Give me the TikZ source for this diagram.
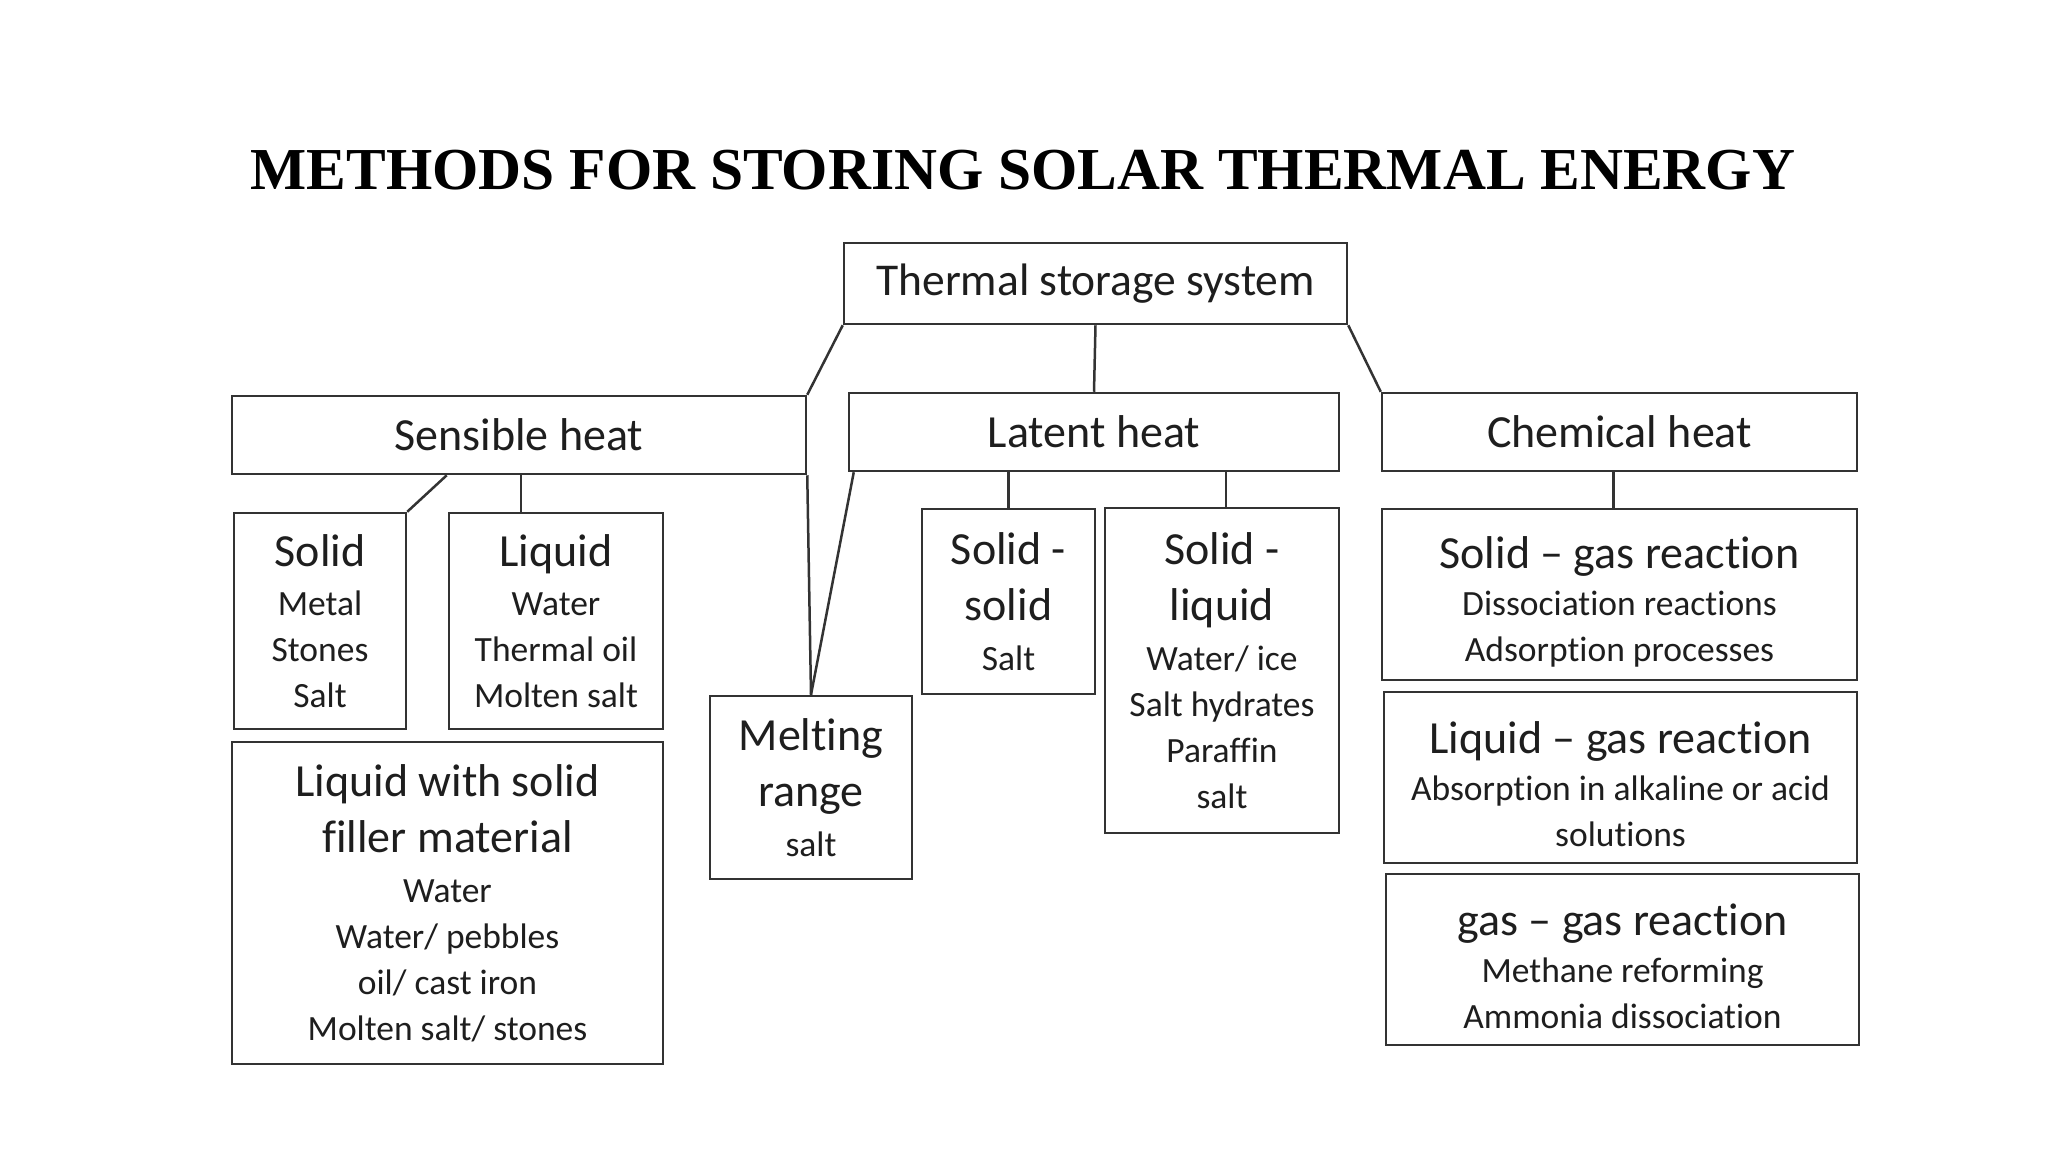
\documentclass[tikz,border=0pt]{standalone}
\usepackage{fontspec}
\setmainfont{Carlito}[Ligatures=NoCommon]
\newfontfamily\titlefont{Liberation Serif}
\definecolor{linecol}{HTML}{333333}
\definecolor{txtcol}{HTML}{1E1E1E}
\newcommand\hl[1]{{\fontsize{46}{57}\selectfont #1}}
\newcommand\tallstrut{\rule{0pt}{46pt}}
\begin{document}
\begin{tikzpicture}[x=1pt,y=-1pt,
  box/.style={draw=linecol, line width=2.5pt, inner sep=0pt, align=center, text=txtcol, font=\fontsize{35.5}{46}\selectfont},
  hdbox/.style={box, font=\fontsize{46}{55}\selectfont},
  conn/.style={draw=linecol, line width=2.5pt}]
\fill[white] (0,0) rectangle (2048,1152);
\useasboundingbox (0,0) rectangle (2048,1152);

\node[font=\titlefont\bfseries\fontsize{59.5}{70}\selectfont, text=black] (title) at (1023,170) {METHODS FOR STORING SOLAR THERMAL ENERGY};

\node[hdbox, font=\fontsize{45.5}{55}\selectfont, minimum width=503, minimum height=81] (tss) at (1095.5,283.5) {\raisebox{-4pt}{Thermal storage system}};
\node[hdbox, minimum width=574, minimum height=78] (sens) at (519,435) {Sensible heat};
\node[hdbox, minimum width=490, minimum height=78] (lat) at (1094,432) {Latent heat};
\node[hdbox, minimum width=475, minimum height=78] (chem) at (1619.5,432) {Chemical heat};

\node[box, minimum width=172, minimum height=216] (solid) at (320,621) {\hl{Solid}\\[3pt]Metal\\Stones\\Salt};
\node[box, minimum width=214, minimum height=216] (liquid) at (556,621) {\hl{Liquid}\\[3pt]Water\\Thermal oil\\Molten salt};
\node[box, minimum width=431, minimum height=322] (filler) at (447.5,903) {\hl{Liquid with solid}\\[10pt]\hl{filler material}\\[4pt]Water\\Water/ pebbles\\oil/ cast iron\\Molten salt/ stones};
\node[box, minimum width=202, minimum height=183] (melt) at (811,787.5) {\hl{Melting}\\[10pt]\hl{range}\\[4pt]salt};
\node[box, minimum width=173, minimum height=185] (ss) at (1008.5,601.5) {\hl{Solid -}\\[10pt]\hl{solid}\\[4pt]Salt};
\node[box, minimum width=234, minimum height=325] (sl) at (1222,670.5) {\hl{Solid -}\\[10pt]\hl{liquid}\\[4pt]Water/ ice\\Salt hydrates\\Paraffin\\salt};
\node[box, minimum width=475, minimum height=171] (sg) at (1619.5,594.5) {\tallstrut\hl{Solid -- gas reaction}\\[1pt]Dissociation reactions\\Adsorption processes};
\node[box, minimum width=473, minimum height=171] (lg) at (1620.5,777.5) {\tallstrut\hl{Liquid -- gas reaction}\\[1pt]Absorption in alkaline or acid\\solutions};
\node[box, minimum width=473, minimum height=171] (gg) at (1622.5,959.5) {\tallstrut\hl{gas -- gas reaction}\\[1pt]Methane reforming\\Ammonia dissociation};

\draw[conn] (tss.south west) -- (sens.north east);
\draw[conn] (tss.south) -- (lat.north);
\draw[conn] (tss.south east) -- (chem.north west);
\draw[conn] ([xshift=216]sens.south west) -- (solid.north east);
\draw[conn] ([xshift=-35]liquid.north) -- ([xshift=-35]liquid.north |- sens.south);
\draw[conn] (sens.south east) -- (melt.north);
\draw[conn] ([xshift=6]lat.south west) -- (melt.north);
\draw[conn] (ss.north) -- (ss.north |- lat.south);
\draw[conn] ([xshift=4]sl.north) -- ([xshift=4]sl.north |- lat.south);
\draw[conn] ([xshift=-6]sg.north) -- ([xshift=-6]sg.north |- chem.south);
\end{tikzpicture}
\end{document}
